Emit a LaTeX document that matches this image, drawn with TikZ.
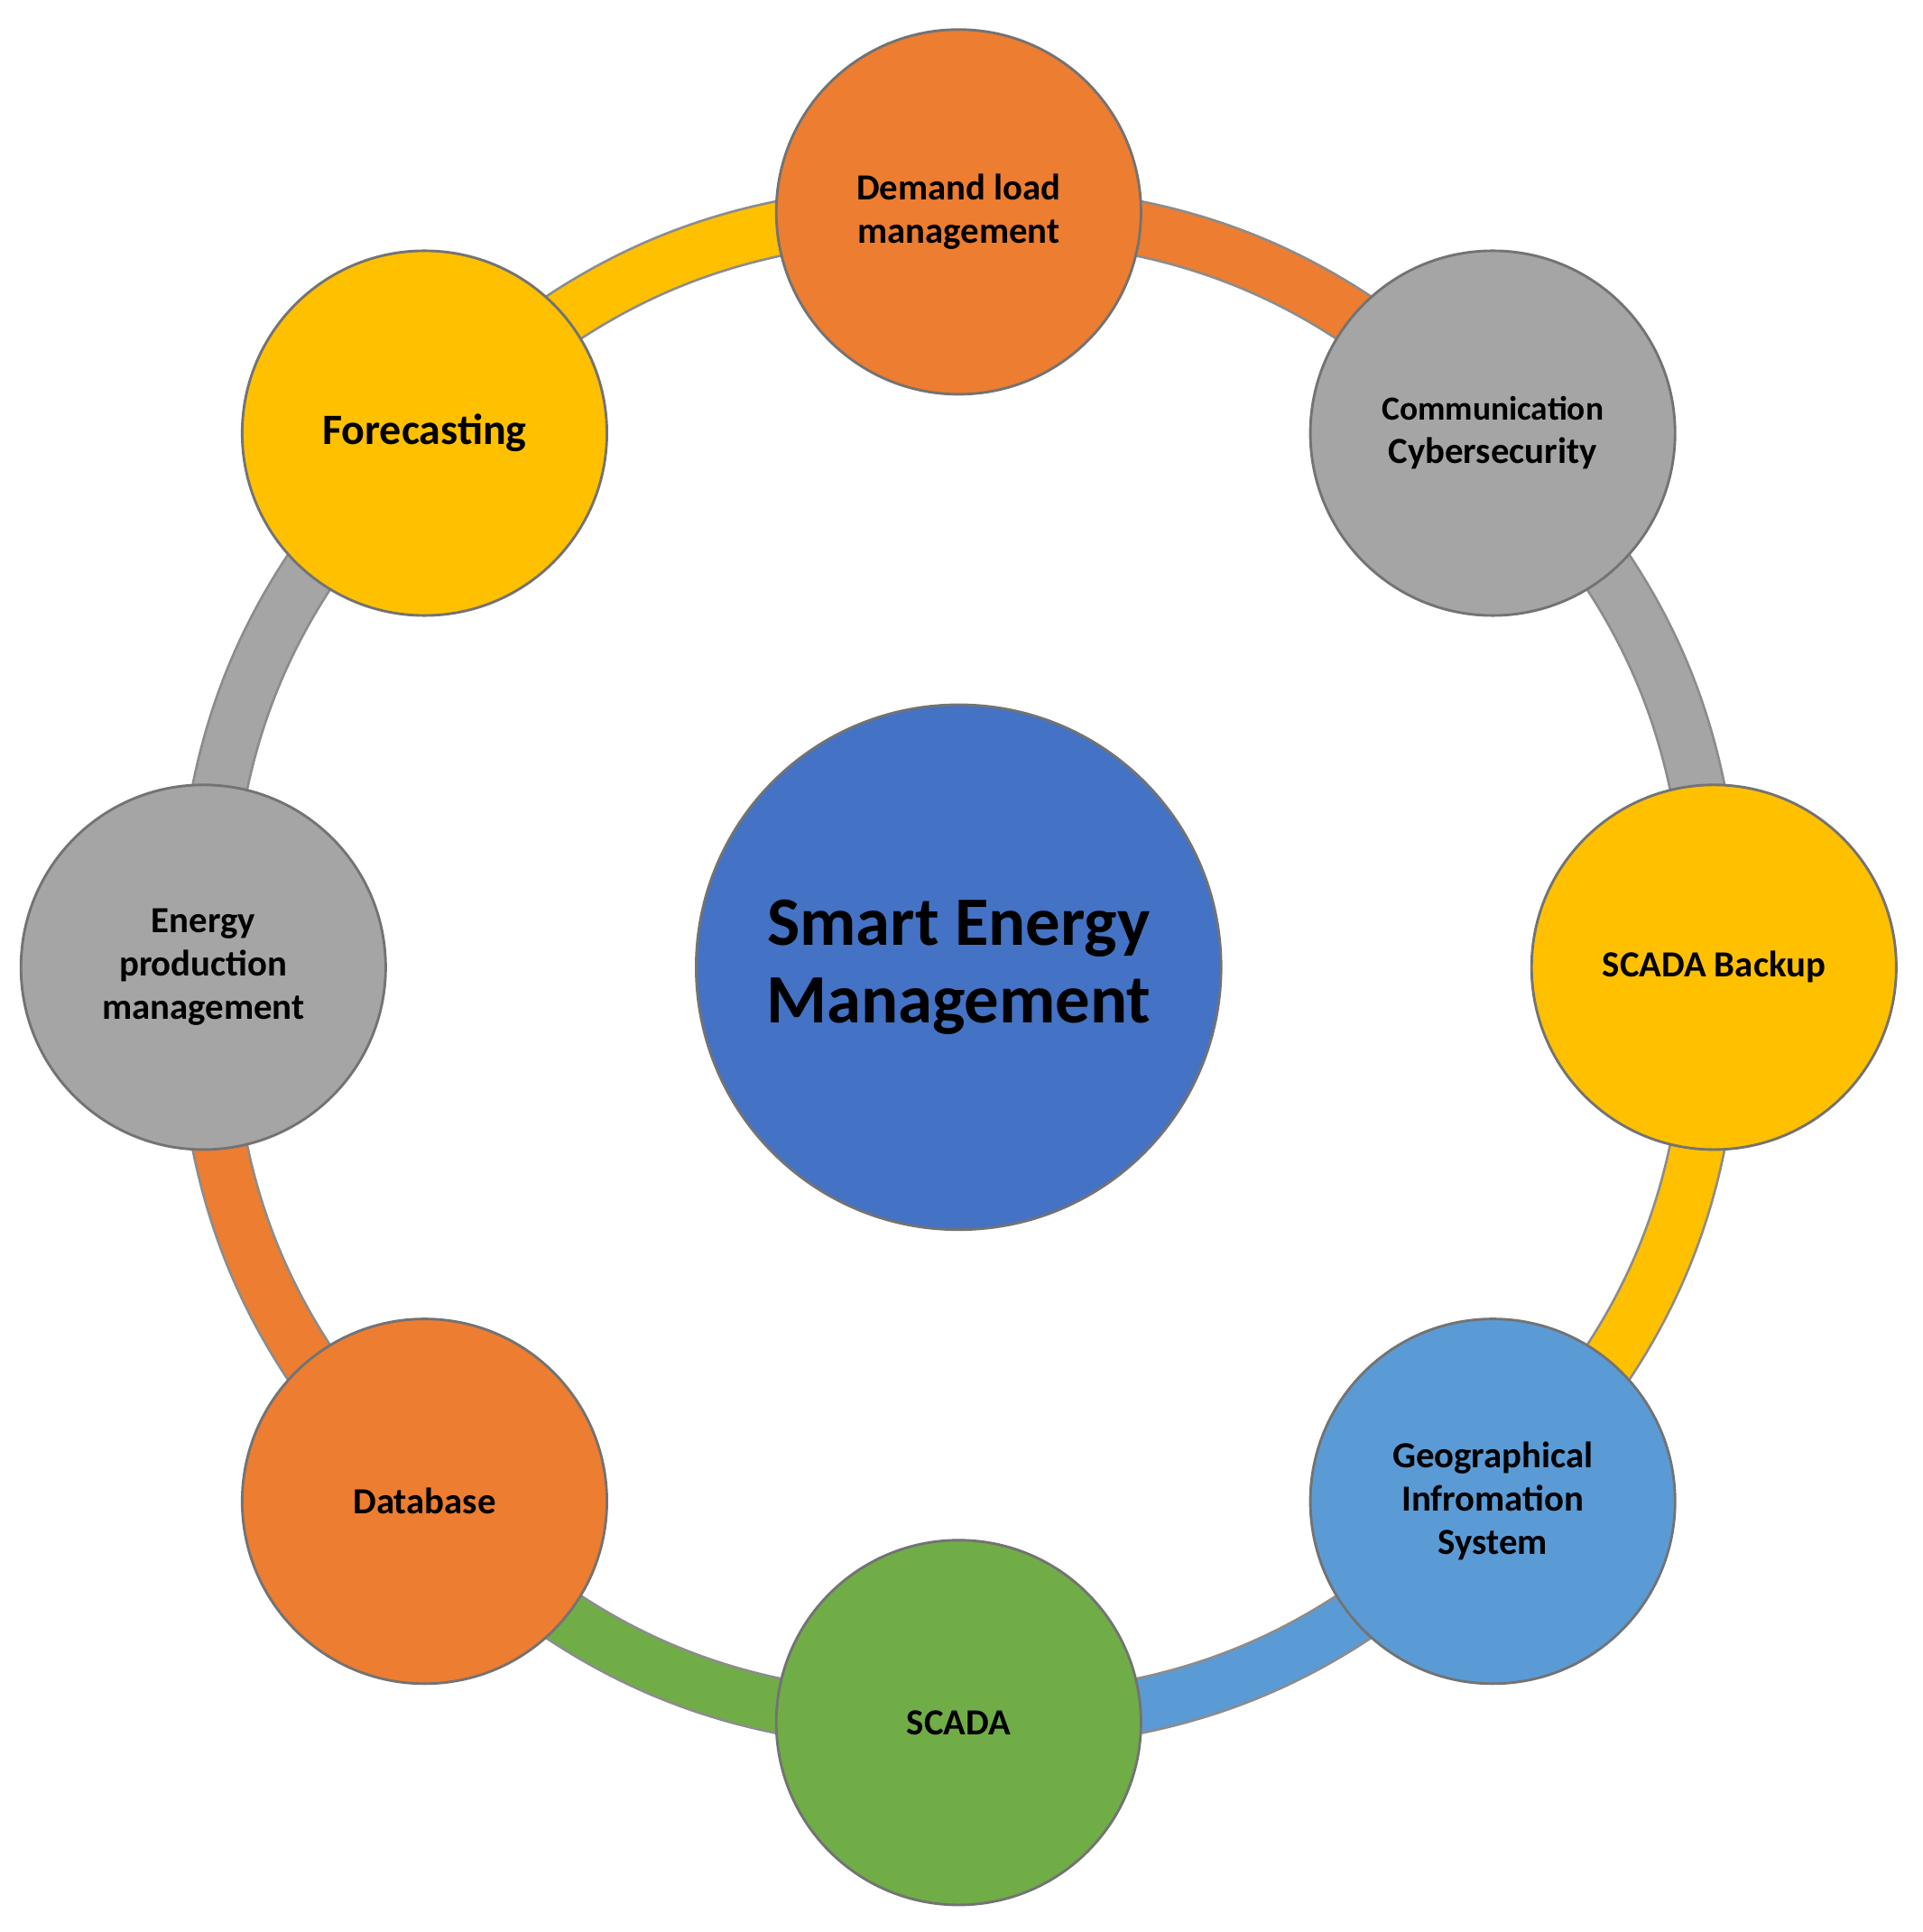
\documentclass[tikz,border=0pt]{standalone}
\usepackage{fontspec}
\setmainfont{Carlito}
\definecolor{sorange}{HTML}{ED7D31}
\definecolor{sgray}{HTML}{A5A5A5}
\definecolor{syellow}{HTML}{FFC000}
\definecolor{sblue}{HTML}{4472C4}
\definecolor{slblue}{HTML}{5B9BD5}
\definecolor{sgreen}{HTML}{70AD47}
\tikzset{>=latex}
\tikzset{ball/.style={circle, draw=black!55, line width=0.6pt, minimum size=2.96cm,
  inner sep=0pt, align=center, font=\bfseries\fontsize{8.5}{10}\selectfont}}
\tikzset{band/.style={line width=0.42cm}}

\begin{document}
\begin{tikzpicture}

    \useasboundingbox (-7.78,-7.83) rectangle (7.82,7.85);

    % places of the ring, clockwise from the top
    \foreach \i/\ang in {1/90,2/45,3/0,4/-45,5/-90,6/-135,7/180,8/135}
        \coordinate (p\i) at (\ang:6.13);

    % bands between neighbours
    \foreach \i/\j/\col in {1/2/sorange,2/3/sgray,3/4/syellow,4/5/slblue,
                            5/6/sgreen,6/7/sorange,7/8/sgray,8/1/syellow}
    {
        \draw[band, black!45, line width=0.46cm] (p\i) to[bend left=22.5] (p\j);
        \draw[band, \col] (p\i) to[bend left=22.5] (p\j);
    }

    \foreach \i/\col/\txt in {1/sorange/{Demand load\\management},
        2/sgray/{\fontsize{7.8}{9.5}\selectfont Communication\\Cybersecurity},
        3/syellow/{SCADA Backup},
        4/slblue/{Geographical\\Infromation\\System},
        5/sgreen/{SCADA},
        6/sorange/{Database},
        7/sgray/{Energy\\production\\management},
        8/syellow/{\fontsize{10}{12}\selectfont Forecasting}}
        \node[ball, fill=\col] (n\i) at (p\i) {\txt};

    \node[ball, fill=sblue, minimum size=4.26cm,
        font=\bfseries\fontsize{16}{18}\selectfont] (core) at (0,0) {Smart Energy\\Management};

\end{tikzpicture}
\end{document}
